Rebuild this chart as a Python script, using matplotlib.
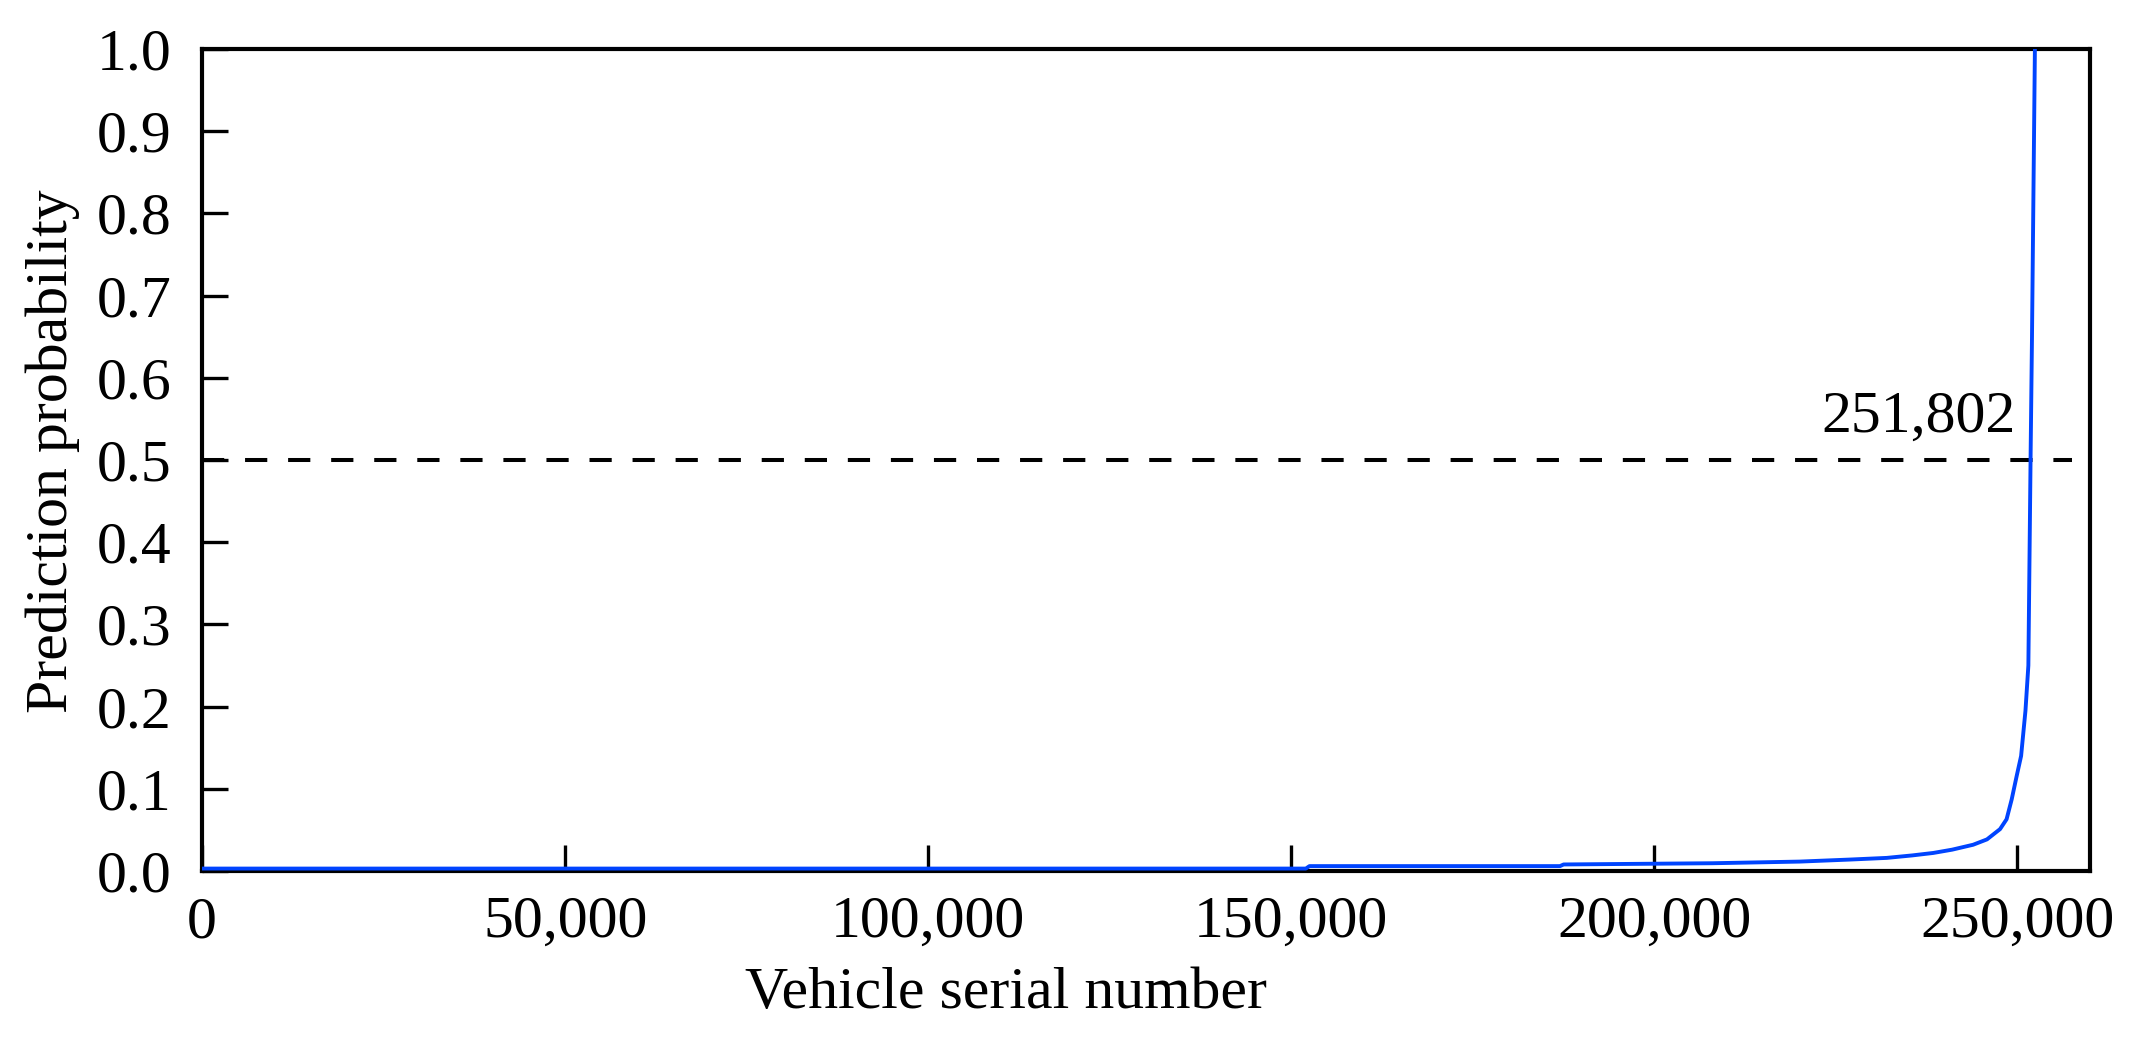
import matplotlib.pyplot as plt

# sorted prediction probabilities
serial = [0, 152000, 152500, 187000, 187500, 208000, 220000, 227000, 232000,
          235500, 238400, 241000, 243900, 245800, 247600, 248500, 249200,
          249900, 250500, 251100, 251500, 251802, 252000, 252400]
prob = [0.003, 0.003, 0.006, 0.006, 0.008, 0.0095, 0.0115, 0.014, 0.016,
        0.019, 0.022, 0.026, 0.032, 0.0385, 0.051, 0.063, 0.087,
        0.116, 0.14, 0.195, 0.25, 0.5, 0.65, 1.0]

threshold = 0.5
cut_label = "251,802"
xticks = [0, 50000, 100000, 150000, 200000, 250000]
yticks = [0.0, 0.1, 0.2, 0.3, 0.4, 0.5, 0.6, 0.7, 0.8, 0.9, 1.0]

plt.rcParams['font.family'] = ['Liberation Serif', 'DejaVu Serif']
plt.rcParams['lines.scale_dashes'] = False
FS = 43

fig = plt.figure(figsize=(21.45, 10.53), dpi=100)
ax = fig.add_axes([0.0942, 0.1728, 0.8802, 0.7807])

ax.plot(serial, prob, color='#0044ff', lw=2.8, zorder=3)
ax.hlines(threshold, 0, 257500, colors='black', lw=2.9,
          linestyles=(0, (16, 15)), zorder=2)
ax.text(249700, 0.534, cut_label, ha='right', va='baseline', fontsize=FS)

ax.set_xlim(0, 260000)
ax.set_ylim(0, 1.0)
ax.set_xticks(xticks)
ax.set_xticklabels(['{:,}'.format(v) for v in xticks])
ax.set_yticks(yticks)
ax.set_yticklabels(['{:.1f}'.format(v) for v in yticks])

for s in ax.spines.values():
    s.set_linewidth(3.0)
ax.tick_params(direction='in', length=19, width=2.4, labelsize=FS)
ax.tick_params(axis='x', pad=18)
ax.tick_params(axis='y', pad=22)

ax.set_xlabel("Vehicle serial number", fontsize=FS)
ax.set_ylabel("Prediction probability", fontsize=FS)
ax.xaxis.set_label_coords(0.426, -0.117)
ax.yaxis.set_label_coords(-0.0646, 0.511)

fig.savefig("out.png", dpi=100)
